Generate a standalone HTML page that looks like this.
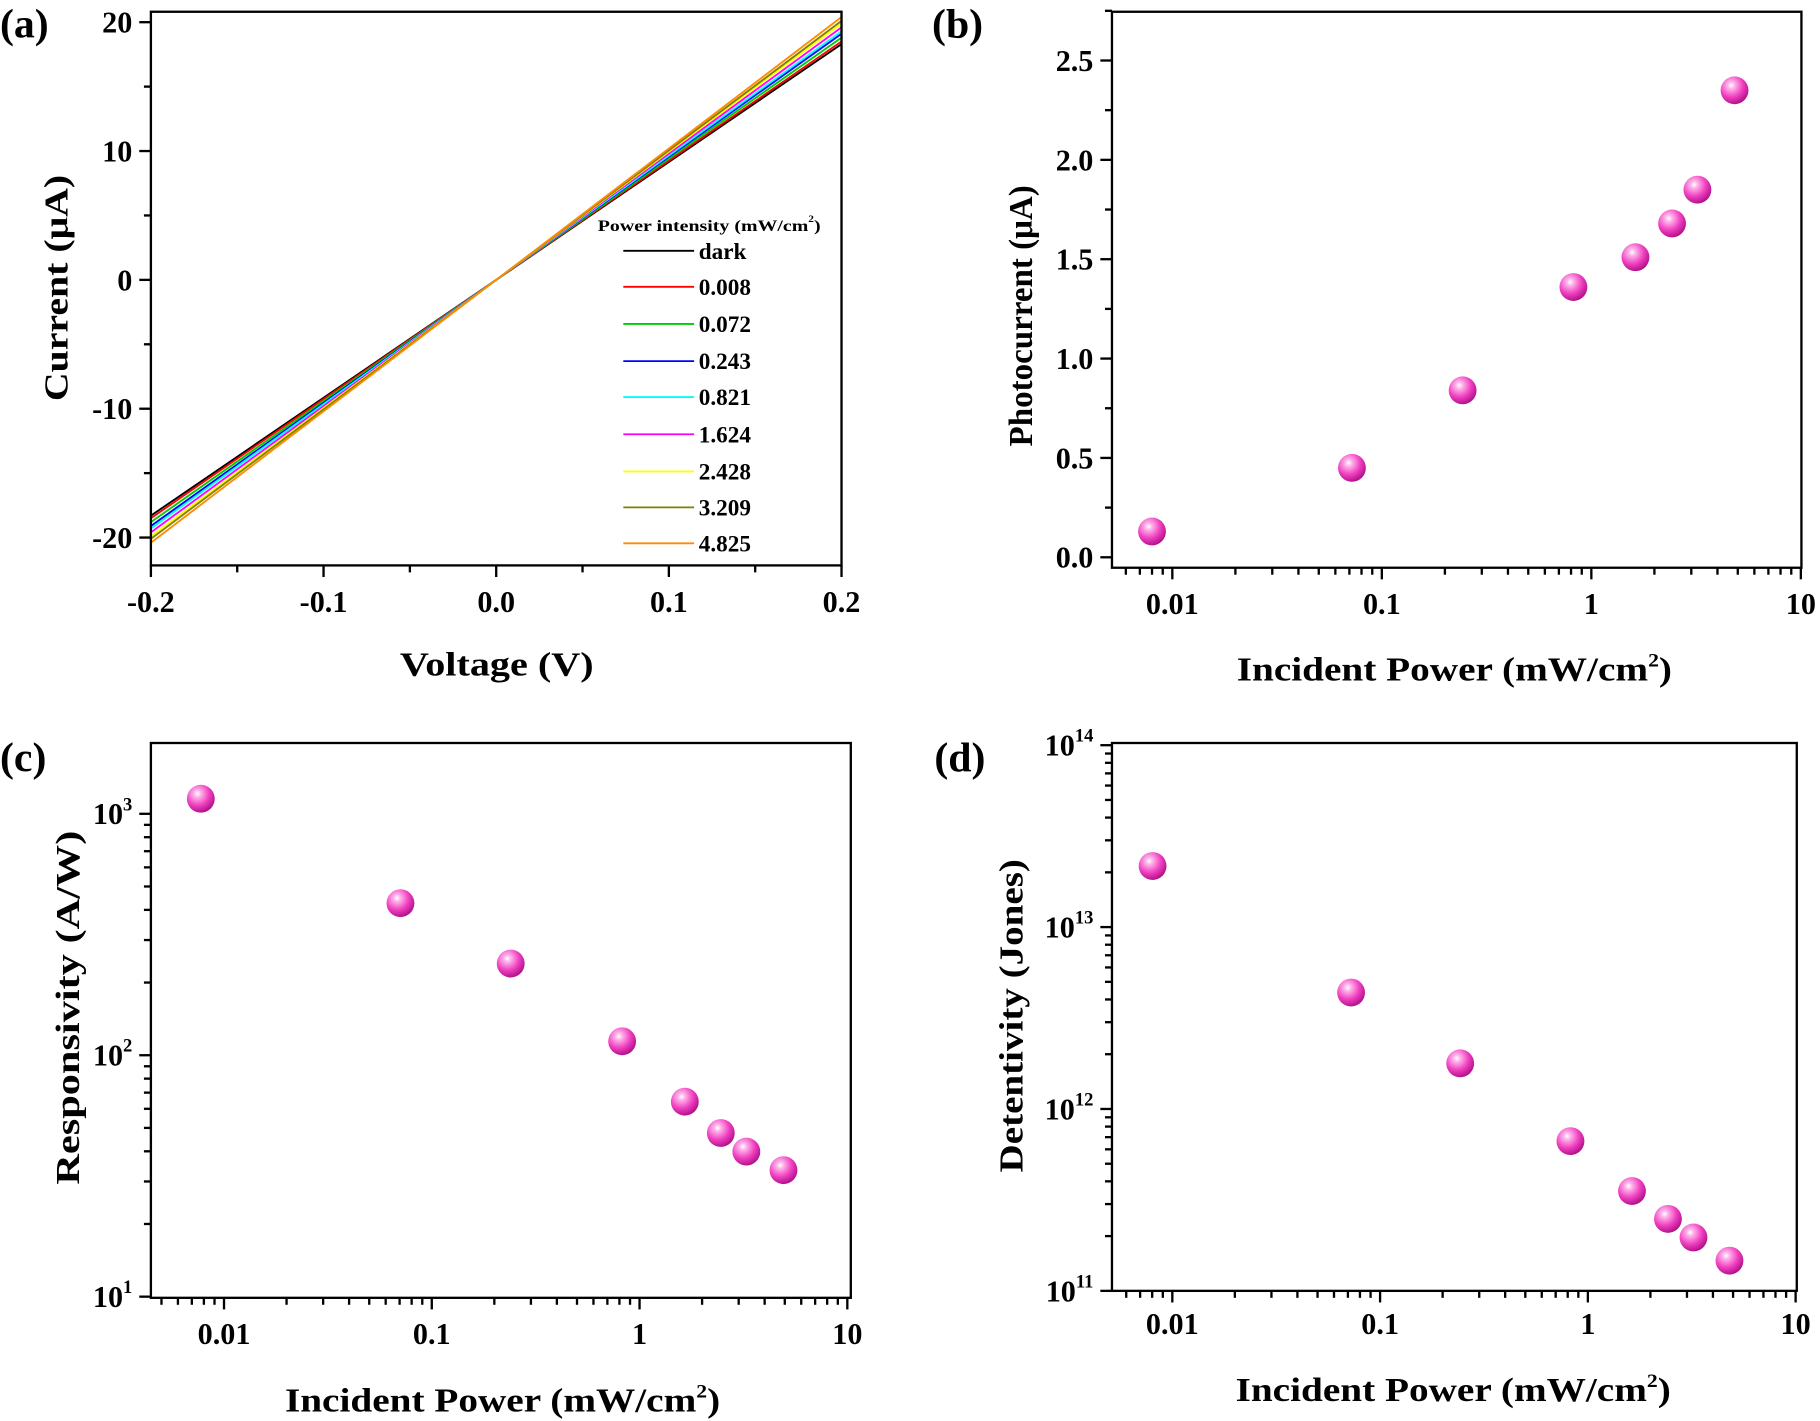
<!DOCTYPE html>
<html><head><meta charset="utf-8"><style>
html,body{margin:0;padding:0;background:#fff;width:1820px;height:1421px;overflow:hidden}
svg text{font-family:"Liberation Serif",serif;font-weight:bold;fill:#000}
</style></head><body>
<svg id="s" width="1820" height="1421" viewBox="0 0 1568 1224" xmlns="http://www.w3.org/2000/svg">
<defs>
<radialGradient id="g" cx="0.38" cy="0.32" r="0.7">
<stop offset="0" stop-color="#fff"/><stop offset="0.18" stop-color="#ffb3ea"/><stop offset="0.6" stop-color="#f040c0"/><stop offset="1" stop-color="#b0108a"/>
</radialGradient>
</defs>
</svg>
<script>
const s=document.getElementById('s');let h='';
function L(x1,y1,x2,y2,c,w){h+=`<line x1="${x1}" y1="${y1}" x2="${x2}" y2="${y2}" stroke="${c||'#000'}" stroke-width="${w||2}"/>`}
function T(x,y,t,sz,a,rot,tl){h+=`<text x="${x}" y="${y}" font-size="${sz}" text-anchor="${a||'middle'}"${tl?` textLength="${tl}" lengthAdjust="spacingAndGlyphs"`:''}${rot?` transform="rotate(-90 ${x} ${y})"`:''}>${t}</text>`}
function box(x1,y1,x2,y2){h+=`<rect x="${x1}" y="${y1}" width="${x2-x1}" height="${y2-y1}" fill="none" stroke="#000" stroke-width="2"/>`}
function ball(x,y){h+=`<circle cx="${x}" cy="${y}" r="12" fill="url(#g)"/>`}
const sup='<tspan font-size="16" dy="-12">2</tspan><tspan dy="12">)</tspan>';
// panel a
const ax=v=>130+(v+0.2)/0.4*595, ay=v=>241-v*11.1;
const cols=['#000','#f00','#0c0','#00f','#0ff','#f0f','#ff0','#808000','#ff8c00'];
const Is=[18.3,18.5,18.8,19.1,19.3,19.6,19.9,20.1,20.4];
Is.forEach((I,i)=>L(ax(-0.2),ay(-I),ax(0.2),ay(I),cols[i],1.6));
box(130,10,725,487);
for(let v=-0.2;v<=0.201;v+=0.05){const x=ax(v);L(x,487,x,(Math.abs(Math.round(v*20))%2==0)?497:493)}
[-0.2,-0.1,0,0.1,0.2].forEach(v=>T(ax(v),527,v.toFixed(1),26));
for(let v=-20;v<=20;v+=5){L(130,ay(v),v%10==0?120:124,ay(v))}
[-20,-10,0,10,20].forEach(v=>T(114,ay(v)+9,v,26,'end'));
T(428,582,'Voltage (V)',29,'middle',0,167);T(58,248,'Current (μA)',29,'middle',1,195);
T(515,199,'Power intensity (mW/cm<tspan font-size="8" dy="-8">2</tspan><tspan dy="8">)</tspan>',14,'start',0,192);
['dark','0.008','0.072','0.243','0.821','1.624','2.428','3.209','4.825'].forEach((t,i)=>{const y=[216,247,279,311,342,374,406,437,468][i];L(537,y,598,y,cols[i],1.6);T(602,y+7,t,20,'start')});
T(0,32,'(a)',36,'start');
// panel b
const bx=v=>1010+(Math.log10(v)+2)*180.5, by=v=>480-v*171.2;
box(958,10,1552,489);
for(let d=-3;d<=1;d++)for(let k=1;k<10;k++){const x=bx(k*Math.pow(10,d));if(x<958||x>1553)continue;L(x,489,x,489+(k==1?10:6))}
[['0.01',0.01],['0.1',0.1],['1',1],['10',10]].forEach(a=>T(bx(a[1]),529,a[0],26));
for(let v=0;v<=2.76;v+=0.25){L(958,by(v),Math.round(v*4)%2==0?948:952,by(v))}
for(let v=0;v<=2.5;v+=0.5)T(942,by(v)+9,v.toFixed(1),26,'end');
[[0.008,0.13],[0.072,0.45],[0.243,0.84],[0.821,1.36],[1.624,1.51],[2.428,1.68],[3.209,1.85],[4.825,2.35]].forEach(p=>ball(bx(p[0]),by(p[1])));
T(1253,586,'Incident Power (mW/cm'+sup,29,'middle',0,375);T(889,272,'Photocurrent (μA)',29,'middle',1,225);
T(803,32,'(b)',36,'start');
// panel c
const cx=v=>193+(Math.log10(v)+2)*179, cy=d=>1117-(d-1)*208;
box(130,640,733,1118);
for(let d=-3;d<=1;d++)for(let k=1;k<10;k++){const x=cx(k*Math.pow(10,d));if(x<130||x>734)continue;L(x,1118,x,1118+(k==1?10:6))}
[['0.01',0.01],['0.1',0.1],['1',1],['10',10]].forEach(a=>T(cx(a[1]),1158,a[0],26));
for(let d=1;d<4;d++)for(let k=1;k<10;k++){const y=cy(d+Math.log10(k));if(y<640)continue;L(130,y,k==1?120:124,y)}
[1,2,3].forEach(d=>T(114,cy(d)+9,'10<tspan font-size="16" dy="-12">'+d+'</tspan>',26,'end'));
[[173,688],[345,778],[440,830],[536,897],[590,949],[621,976],[643,992],[675,1008]].forEach(p=>ball(p[0],p[1]));
T(433,1216,'Incident Power (mW/cm'+sup,29,'middle',0,375);T(68,868,'Responsivity (A/W)',29,'middle',1,305);
T(0,664,'(c)',36,'start');
// panel d
const dx=v=>1010+(Math.log10(v)+2)*179, dy=d=>1112-(d-11)*156.7;
box(958,640,1548,1112);
for(let d=-3;d<=1;d++)for(let k=1;k<10;k++){const x=dx(k*Math.pow(10,d));if(x<958||x>1549)continue;L(x,1112,x,1112+(k==1?10:6))}
[['0.01',0.01],['0.1',0.1],['1',1],['10',10]].forEach(a=>T(dx(a[1]),1149,a[0],26));
for(let d=11;d<14;d++)for(let k=1;k<10;k++){const y=dy(d+Math.log10(k));L(958,y,k==1?948:952,y)}
L(958,dy(14),948,dy(14));
[11,12,13,14].forEach(d=>T(942,dy(d)+9,'10<tspan font-size="16" dy="-12">'+d+'</tspan>',26,'end'));
[[993,746],[1164,855],[1258,916],[1353,983],[1406,1026],[1437,1050],[1459,1066],[1490,1086]].forEach(p=>ball(p[0],p[1]));
T(1252,1207,'Incident Power (mW/cm'+sup,29,'middle',0,375);T(881,875,'Detentivity (Jones)',29,'middle',1,270);
T(805,664,'(d)',36,'start');
s.insertAdjacentHTML('beforeend',h);
</script>
</body></html>
